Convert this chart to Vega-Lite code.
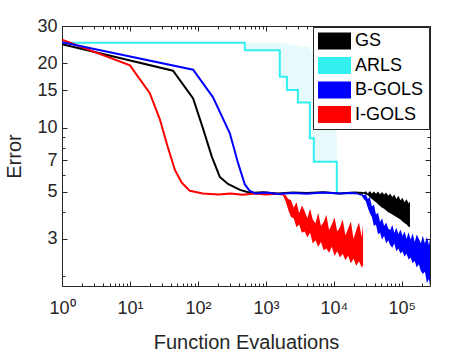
{
  "$schema": "https://vega.github.io/schema/vega-lite/v6.json",
  "width": 368,
  "height": 260,
  "autosize": {"type": "none"},
  "padding": {"left": 62, "top": 26, "right": 44, "bottom": 69},
  "background": "white",
  "config": {
    "view": {"stroke": null},
    "font": "Liberation Sans",
    "axis": {
      "domainColor": "#262626", "tickColor": "#262626", "labelColor": "#262626", "titleColor": "#262626",
      "grid": false, "labelFont": "Liberation Sans", "titleFont": "Liberation Sans",
      "labelFontSize": 18, "titleFontSize": 20, "titleFontWeight": "normal", "tickWidth": 1, "domainWidth": 1
    }
  },
  "datasets": {
    "arlsband": [
      {"x": 490, "lo": 23.1, "hi": 25.04},
      {"x": 1600, "lo": 17.3, "hi": 25.04},
      {"x": 2040, "lo": 15.0, "hi": 24.5},
      {"x": 2960, "lo": 13.1, "hi": 24},
      {"x": 4440, "lo": 8.9, "hi": 23},
      {"x": 5080, "lo": 6.9, "hi": 22},
      {"x": 11060, "lo": 6.9, "hi": 22}
    ],
    "bands": [
      {"s": "GS", "x": 27542, "lo": 4.88, "hi": 4.95},
      {"s": "GS", "x": 29512, "lo": 4.84, "hi": 5.02},
      {"s": "GS", "x": 31623, "lo": 4.8, "hi": 4.9},
      {"s": "GS", "x": 33884, "lo": 4.7, "hi": 5.03},
      {"s": "GS", "x": 36308, "lo": 4.62, "hi": 4.9},
      {"s": "GS", "x": 38905, "lo": 4.53, "hi": 5.0},
      {"s": "GS", "x": 41687, "lo": 4.45, "hi": 4.88},
      {"s": "GS", "x": 44668, "lo": 4.36, "hi": 5.0},
      {"s": "GS", "x": 47863, "lo": 4.28, "hi": 4.86},
      {"s": "GS", "x": 51286, "lo": 4.2, "hi": 4.98},
      {"s": "GS", "x": 54954, "lo": 4.15, "hi": 4.84},
      {"s": "GS", "x": 58884, "lo": 4.08, "hi": 4.95},
      {"s": "GS", "x": 63096, "lo": 4.0, "hi": 4.78},
      {"s": "GS", "x": 67608, "lo": 3.95, "hi": 4.9},
      {"s": "GS", "x": 72444, "lo": 3.9, "hi": 4.72},
      {"s": "GS", "x": 77625, "lo": 3.85, "hi": 4.85},
      {"s": "GS", "x": 83176, "lo": 3.8, "hi": 4.62},
      {"s": "GS", "x": 89125, "lo": 3.75, "hi": 4.78},
      {"s": "GS", "x": 95499, "lo": 3.7, "hi": 4.55},
      {"s": "GS", "x": 102329, "lo": 3.62, "hi": 4.68},
      {"s": "GS", "x": 109648, "lo": 3.56, "hi": 4.45},
      {"s": "GS", "x": 117490, "lo": 3.5, "hi": 4.6},
      {"s": "GS", "x": 125893, "lo": 3.42, "hi": 4.4},
      {"s": "GS", "x": 131826, "lo": 3.4, "hi": 4.5},
      {"s": "B-GOLS", "x": 22387, "lo": 4.85, "hi": 4.92},
      {"s": "B-GOLS", "x": 23988, "lo": 4.8, "hi": 4.88},
      {"s": "B-GOLS", "x": 25704, "lo": 4.78, "hi": 4.9},
      {"s": "B-GOLS", "x": 27542, "lo": 4.62, "hi": 4.8},
      {"s": "B-GOLS", "x": 29512, "lo": 4.5, "hi": 4.86},
      {"s": "B-GOLS", "x": 31623, "lo": 4.2, "hi": 4.62},
      {"s": "B-GOLS", "x": 33884, "lo": 3.95, "hi": 4.72},
      {"s": "B-GOLS", "x": 36308, "lo": 3.8, "hi": 4.25},
      {"s": "B-GOLS", "x": 38905, "lo": 3.45, "hi": 4.35},
      {"s": "B-GOLS", "x": 41687, "lo": 3.5, "hi": 3.9},
      {"s": "B-GOLS", "x": 44668, "lo": 3.15, "hi": 3.98},
      {"s": "B-GOLS", "x": 47863, "lo": 3.2, "hi": 3.6},
      {"s": "B-GOLS", "x": 51286, "lo": 2.97, "hi": 3.75},
      {"s": "B-GOLS", "x": 54954, "lo": 3.1, "hi": 3.45},
      {"s": "B-GOLS", "x": 58884, "lo": 2.85, "hi": 3.58},
      {"s": "B-GOLS", "x": 63096, "lo": 2.95, "hi": 3.35},
      {"s": "B-GOLS", "x": 67608, "lo": 2.8, "hi": 3.3},
      {"s": "B-GOLS", "x": 72444, "lo": 2.72, "hi": 3.48},
      {"s": "B-GOLS", "x": 77625, "lo": 2.85, "hi": 3.2},
      {"s": "B-GOLS", "x": 83176, "lo": 2.62, "hi": 3.38},
      {"s": "B-GOLS", "x": 89125, "lo": 2.7, "hi": 3.15},
      {"s": "B-GOLS", "x": 95499, "lo": 2.55, "hi": 3.32},
      {"s": "B-GOLS", "x": 102329, "lo": 2.62, "hi": 3.1},
      {"s": "B-GOLS", "x": 109648, "lo": 2.48, "hi": 3.25},
      {"s": "B-GOLS", "x": 117490, "lo": 2.55, "hi": 3.0},
      {"s": "B-GOLS", "x": 125893, "lo": 2.4, "hi": 3.22},
      {"s": "B-GOLS", "x": 134896, "lo": 2.45, "hi": 2.98},
      {"s": "B-GOLS", "x": 144544, "lo": 2.3, "hi": 3.18},
      {"s": "B-GOLS", "x": 154882, "lo": 2.36, "hi": 2.9},
      {"s": "B-GOLS", "x": 165959, "lo": 2.2, "hi": 3.14},
      {"s": "B-GOLS", "x": 177828, "lo": 2.28, "hi": 3.0},
      {"s": "B-GOLS", "x": 190546, "lo": 2.12, "hi": 2.86},
      {"s": "B-GOLS", "x": 204174, "lo": 2.05, "hi": 3.1},
      {"s": "B-GOLS", "x": 218776, "lo": 2.1, "hi": 2.85},
      {"s": "B-GOLS", "x": 234423, "lo": 1.86, "hi": 3.06},
      {"s": "B-GOLS", "x": 251189, "lo": 1.94, "hi": 2.8},
      {"s": "B-GOLS", "x": 260000, "lo": 1.8, "hi": 3.0},
      {"s": "I-GOLS", "x": 1778, "lo": 4.8, "hi": 4.9},
      {"s": "I-GOLS", "x": 1950, "lo": 4.5, "hi": 4.8},
      {"s": "I-GOLS", "x": 2138, "lo": 4.1, "hi": 4.62},
      {"s": "I-GOLS", "x": 2344, "lo": 3.8, "hi": 4.55},
      {"s": "I-GOLS", "x": 2570, "lo": 3.75, "hi": 4.2},
      {"s": "I-GOLS", "x": 2818, "lo": 3.4, "hi": 4.45},
      {"s": "I-GOLS", "x": 3090, "lo": 3.5, "hi": 3.95},
      {"s": "I-GOLS", "x": 3388, "lo": 3.2, "hi": 4.3},
      {"s": "I-GOLS", "x": 3715, "lo": 3.25, "hi": 4.05},
      {"s": "I-GOLS", "x": 4074, "lo": 3.05, "hi": 3.75},
      {"s": "I-GOLS", "x": 4467, "lo": 3.2, "hi": 4.15},
      {"s": "I-GOLS", "x": 4898, "lo": 2.85, "hi": 3.7},
      {"s": "I-GOLS", "x": 5370, "lo": 2.95, "hi": 3.55},
      {"s": "I-GOLS", "x": 5888, "lo": 2.75, "hi": 3.98},
      {"s": "I-GOLS", "x": 6457, "lo": 2.9, "hi": 3.45},
      {"s": "I-GOLS", "x": 7079, "lo": 2.65, "hi": 3.6},
      {"s": "I-GOLS", "x": 7762, "lo": 2.7, "hi": 3.88},
      {"s": "I-GOLS", "x": 8511, "lo": 2.58, "hi": 3.3},
      {"s": "I-GOLS", "x": 9333, "lo": 2.75, "hi": 3.5},
      {"s": "I-GOLS", "x": 10233, "lo": 2.5, "hi": 3.78},
      {"s": "I-GOLS", "x": 11220, "lo": 2.62, "hi": 3.25},
      {"s": "I-GOLS", "x": 12303, "lo": 2.45, "hi": 3.4},
      {"s": "I-GOLS", "x": 13490, "lo": 2.55, "hi": 3.7},
      {"s": "I-GOLS", "x": 14791, "lo": 2.38, "hi": 3.12},
      {"s": "I-GOLS", "x": 16218, "lo": 2.5, "hi": 3.35},
      {"s": "I-GOLS", "x": 17783, "lo": 2.3, "hi": 3.62},
      {"s": "I-GOLS", "x": 19498, "lo": 2.42, "hi": 3.0},
      {"s": "I-GOLS", "x": 21380, "lo": 2.24, "hi": 3.3},
      {"s": "I-GOLS", "x": 23442, "lo": 2.35, "hi": 3.58},
      {"s": "I-GOLS", "x": 25704, "lo": 2.2, "hi": 3.05},
      {"s": "I-GOLS", "x": 26915, "lo": 2.25, "hi": 3.5}
    ],
    "lines": [
      {"s": "ARLS", "x": 1, "y": 25.04},
      {"s": "ARLS", "x": 490, "y": 25.04},
      {"s": "ARLS", "x": 490, "y": 23.1},
      {"s": "ARLS", "x": 1600, "y": 23.1},
      {"s": "ARLS", "x": 1600, "y": 17.3},
      {"s": "ARLS", "x": 2040, "y": 17.3},
      {"s": "ARLS", "x": 2040, "y": 15.0},
      {"s": "ARLS", "x": 2960, "y": 15.0},
      {"s": "ARLS", "x": 2960, "y": 13.1},
      {"s": "ARLS", "x": 4440, "y": 13.1},
      {"s": "ARLS", "x": 4440, "y": 8.9},
      {"s": "ARLS", "x": 5080, "y": 8.9},
      {"s": "ARLS", "x": 5080, "y": 6.9},
      {"s": "ARLS", "x": 11060, "y": 6.9},
      {"s": "ARLS", "x": 11060, "y": 4.93},
      {"s": "GS", "x": 1, "y": 24.6},
      {"s": "GS", "x": 43, "y": 18.5},
      {"s": "GS", "x": 85, "y": 13.7},
      {"s": "GS", "x": 118, "y": 9.96},
      {"s": "GS", "x": 160, "y": 7.3},
      {"s": "GS", "x": 210, "y": 5.86},
      {"s": "GS", "x": 277, "y": 5.43},
      {"s": "GS", "x": 415, "y": 5.09},
      {"s": "GS", "x": 600, "y": 4.92},
      {"s": "GS", "x": 900, "y": 4.96},
      {"s": "GS", "x": 1500, "y": 4.9},
      {"s": "GS", "x": 2500, "y": 4.95},
      {"s": "GS", "x": 4000, "y": 4.92},
      {"s": "GS", "x": 7000, "y": 4.96},
      {"s": "GS", "x": 12000, "y": 4.9},
      {"s": "GS", "x": 20000, "y": 4.95},
      {"s": "GS", "x": 27542, "y": 4.93},
      {"s": "I-GOLS", "x": 1, "y": 25.9},
      {"s": "I-GOLS", "x": 10, "y": 19.6},
      {"s": "I-GOLS", "x": 19.6, "y": 14.5},
      {"s": "I-GOLS", "x": 27.6, "y": 10.9},
      {"s": "I-GOLS", "x": 36, "y": 8.1},
      {"s": "I-GOLS", "x": 46, "y": 6.3},
      {"s": "I-GOLS", "x": 58, "y": 5.5},
      {"s": "I-GOLS", "x": 76, "y": 5.04},
      {"s": "I-GOLS", "x": 118, "y": 4.9},
      {"s": "I-GOLS", "x": 200, "y": 4.85},
      {"s": "I-GOLS", "x": 300, "y": 4.9},
      {"s": "I-GOLS", "x": 450, "y": 4.83},
      {"s": "I-GOLS", "x": 700, "y": 4.9},
      {"s": "I-GOLS", "x": 1000, "y": 4.84},
      {"s": "I-GOLS", "x": 1400, "y": 4.88},
      {"s": "I-GOLS", "x": 1778, "y": 4.85},
      {"s": "B-GOLS", "x": 1, "y": 25.2},
      {"s": "B-GOLS", "x": 85, "y": 18.7},
      {"s": "B-GOLS", "x": 166, "y": 13.9},
      {"s": "B-GOLS", "x": 295, "y": 9.4},
      {"s": "B-GOLS", "x": 390, "y": 6.8},
      {"s": "B-GOLS", "x": 490, "y": 5.4},
      {"s": "B-GOLS", "x": 580, "y": 5.03},
      {"s": "B-GOLS", "x": 700, "y": 4.9},
      {"s": "B-GOLS", "x": 1000, "y": 4.95},
      {"s": "B-GOLS", "x": 1500, "y": 4.87},
      {"s": "B-GOLS", "x": 2500, "y": 4.93},
      {"s": "B-GOLS", "x": 4000, "y": 4.89},
      {"s": "B-GOLS", "x": 7000, "y": 4.95},
      {"s": "B-GOLS", "x": 12000, "y": 4.9},
      {"s": "B-GOLS", "x": 18000, "y": 4.93},
      {"s": "B-GOLS", "x": 22387, "y": 4.9}
    ]
  },
  "resolve": {"axis": {"x": "independent", "y": "independent"}},
  "layer": [
    {
      "data": {"name": "arlsband"},
      "mark": {"type": "area", "interpolate": "step-after", "color": "#e6fafb", "clip": true},
      "encoding": {
        "x": {"field": "x", "type": "quantitative",
          "scale": {"type": "log", "domain": [1, 260000], "nice": false},
          "axis": {"orient": "bottom", "title": "Function Evaluations", "titlePadding": 13, "labelPadding": 18,
            "values": [1,2,3,4,5,6,7,8,9,10,20,30,40,50,60,70,80,90,100,200,300,400,500,600,700,800,900,1000,2000,3000,4000,5000,6000,7000,8000,9000,10000,20000,30000,40000,50000,60000,70000,80000,90000,100000,200000],
            "labelExpr": "datum.value==1?'10⁰':datum.value==10?'10¹':datum.value==100?'10²':datum.value==1000?'10³':datum.value==10000?'10⁴':datum.value==100000?'10⁵':''",
            "labelFlush": false, "labelOverlap": false,
            "tickSize": {"condition": {"test": "indexof([1,10,100,1000,10000,100000], datum.value) >= 0", "value": -5}, "value": -3}}},
        "y": {"field": "lo", "type": "quantitative",
          "scale": {"type": "log", "domain": [1.8, 30], "nice": false},
          "axis": {"orient": "left", "title": "Error", "titlePadding": 12, "labelPadding": 10,
            "values": [2,3,4,5,6,7,8,9,10,15,20,30],
            "labelExpr": "indexof([3,5,7,10,15,20,30], datum.value) >= 0 ? datum.value : ''",
            "labelFlush": false, "labelOverlap": false,
            "tickSize": {"condition": {"test": "indexof([3,5,7,10,15,20,30], datum.value) >= 0", "value": -5}, "value": -3}}},
        "y2": {"field": "hi"}
      }
    },
    {
      "data": {"name": "bands"},
      "mark": {"type": "area", "clip": true, "opacity": 1},
      "encoding": {
        "x": {"field": "x", "type": "quantitative", "scale": {"type": "log", "domain": [1, 260000], "nice": false}, "axis": null},
        "y": {"field": "lo", "type": "quantitative", "scale": {"type": "log", "domain": [1.8, 30], "nice": false}, "axis": null},
        "y2": {"field": "hi"},
        "color": {"field": "s", "type": "nominal",
          "scale": {"domain": ["GS", "ARLS", "B-GOLS", "I-GOLS"], "range": ["#000000", "#33f0f0", "#0000ff", "#ff0000"]}}
      }
    },
    {
      "data": {"name": "lines"},
      "mark": {"type": "line", "strokeWidth": 2, "clip": true},
      "encoding": {
        "x": {"field": "x", "type": "quantitative",
          "scale": {"type": "log", "domain": [1, 260000], "nice": false},
          "axis": {"orient": "top", "labels": false, "title": null,
            "values": [1,2,3,4,5,6,7,8,9,10,20,30,40,50,60,70,80,90,100,200,300,400,500,600,700,800,900,1000,2000,3000,4000,5000,6000,7000,8000,9000,10000,20000,30000,40000,50000,60000,70000,80000,90000,100000,200000],
            "tickSize": {"condition": {"test": "indexof([1,10,100,1000,10000,100000], datum.value) >= 0", "value": -5}, "value": -3}}},
        "y": {"field": "y", "type": "quantitative",
          "scale": {"type": "log", "domain": [1.8, 30], "nice": false},
          "axis": {"orient": "right", "labels": false, "title": null,
            "values": [2,3,4,5,6,7,8,9,10,15,20,30],
            "tickSize": {"condition": {"test": "indexof([3,5,7,10,15,20,30], datum.value) >= 0", "value": -5}, "value": -3}}},
        "color": {"field": "s", "type": "nominal",
          "scale": {"domain": ["GS", "ARLS", "B-GOLS", "I-GOLS"], "range": ["#000000", "#33f0f0", "#0000ff", "#ff0000"]},
          "legend": {"orient": "none", "legendX": 251, "legendY": 1, "title": null,
            "symbolType": "M-1,-0.515L1,-0.515L1,0.515L-1,0.515Z", "symbolSize": 1089, "clipHeight": 18,
            "rowPadding": 6.5, "labelFontSize": 18, "labelFont": "Liberation Sans", "labelColor": "#000000",
            "labelOffset": 4, "padding": 5, "strokeColor": "#262626", "fillColor": "white",
            "symbolStrokeWidth": 0, "symbolOpacity": 1,
            "encode": {"symbols": {"update": {"fill": {"scale": "color", "field": "value"}, "stroke": {"scale": "color", "field": "value"}}}}}}
      }
    }
  ]
}
